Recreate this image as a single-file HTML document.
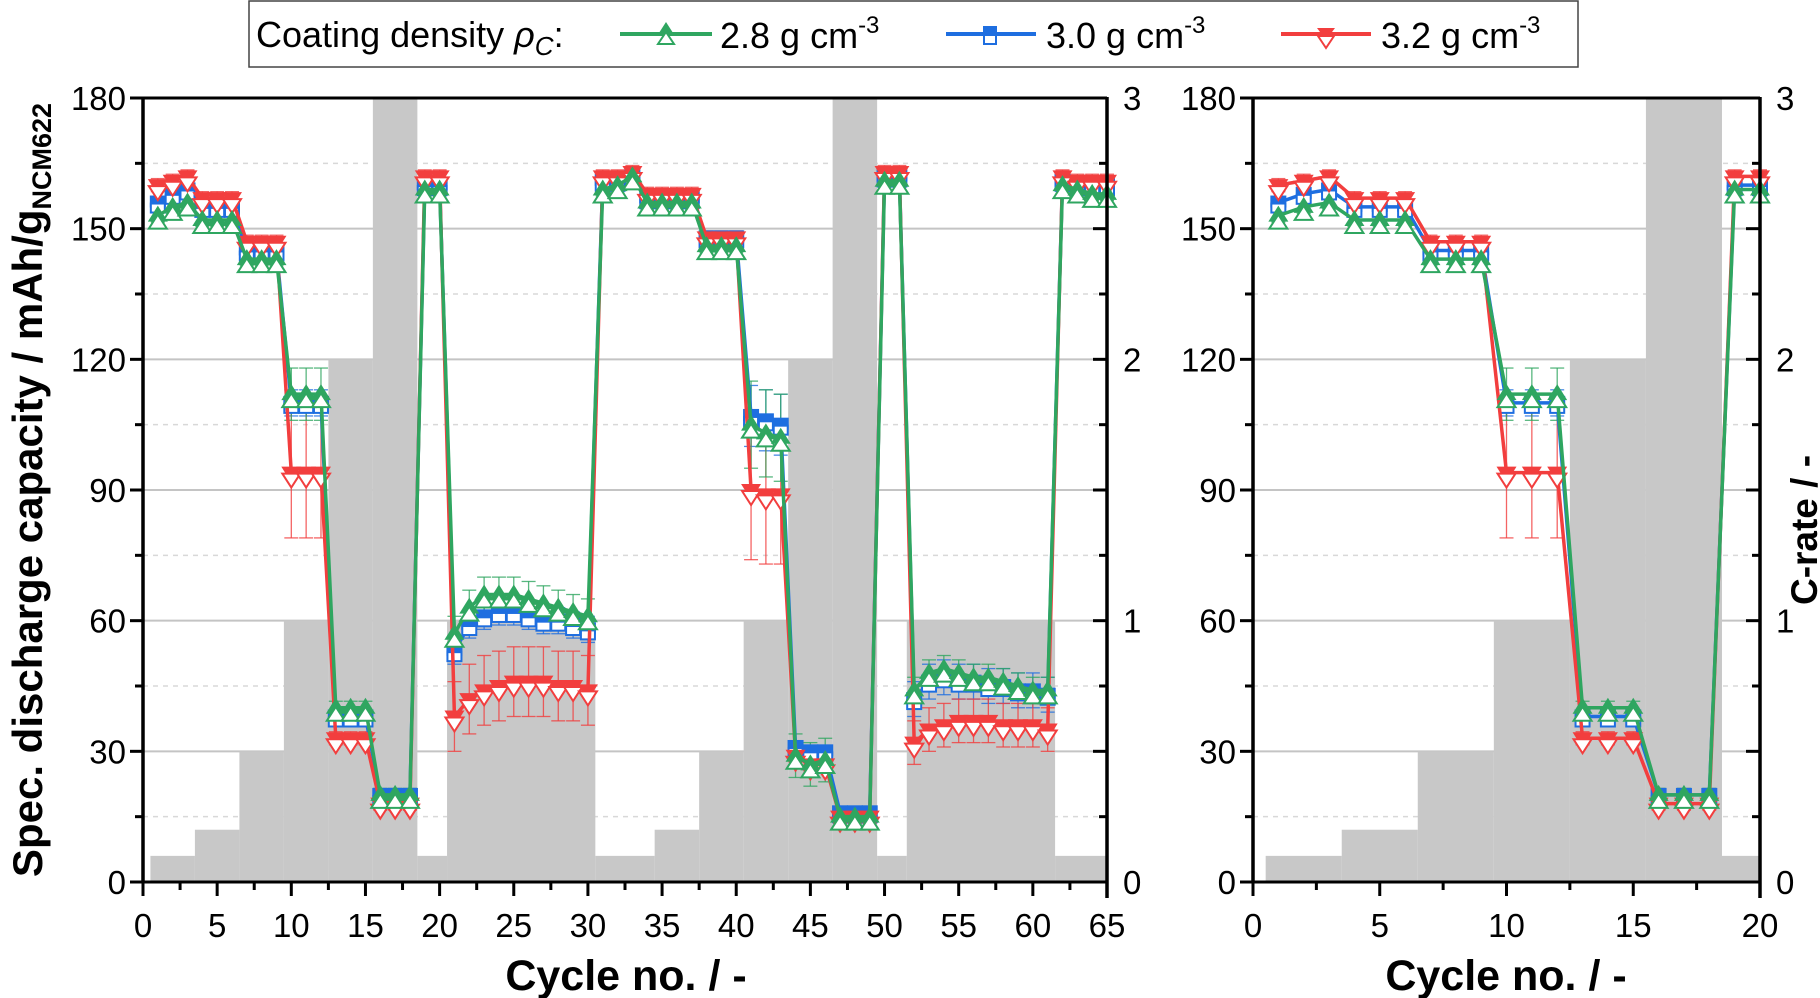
<!DOCTYPE html>
<html><head><meta charset="utf-8"><style>
html,body{margin:0;padding:0;background:#fff;}
svg{display:block;}
text{font-family:"Liberation Sans",Arial,sans-serif;fill:#000;}
</style></head><body>
<svg id="s" width="1820" height="998" viewBox="0 0 1820 998" xmlns="http://www.w3.org/2000/svg">
<rect x="249" y="1" width="1329" height="66" fill="#fff" stroke="#444" stroke-width="1.5"/>
<text x="256" y="47" font-size="36">Coating density <tspan font-style="italic">ρ</tspan><tspan font-style="italic" font-size="26" dy="8">C</tspan><tspan dy="-8">:</tspan></text>
<line x1="620" y1="34" x2="712" y2="34" stroke="#2fa660" stroke-width="4"/>
<polygon points="666,22 657,36 675,36" fill="#2fa660"/><polygon points="666,32 658,44 674,44" fill="#fff" stroke="#2fa660" stroke-width="2"/>
<text x="720" y="48" font-size="36">2.8 g cm<tspan font-size="24" dy="-15">-3</tspan></text>
<line x1="946" y1="34" x2="1036" y2="34" stroke="#1e6ee0" stroke-width="4"/>
<rect x="983" y="26" width="14" height="10" fill="#1e6ee0"/><rect x="984" y="35" width="12" height="9" fill="#fff" stroke="#1e6ee0" stroke-width="2"/>
<text x="1046" y="48" font-size="36">3.0 g cm<tspan font-size="24" dy="-15">-3</tspan></text>
<line x1="1281" y1="34" x2="1371" y2="34" stroke="#f23e3e" stroke-width="4"/>
<polygon points="1317,28 1335,28 1326,40" fill="#f23e3e"/><polygon points="1318,36 1334,36 1326,48" fill="#fff" stroke="#f23e3e" stroke-width="2"/>
<text x="1381" y="48" font-size="36">3.2 g cm<tspan font-size="24" dy="-15">-3</tspan></text>
<g id="g"></g>
<text transform="translate(42,490) rotate(-90)" text-anchor="middle" font-size="42" font-weight="bold">Spec. discharge capacity / mAh/g<tspan font-size="27" dy="9">NCM622</tspan></text>
<text transform="translate(1817,530) rotate(-90)" text-anchor="middle" font-size="37" font-weight="bold">C-rate / -</text>
<text x="626" y="990" text-anchor="middle" font-size="43" font-weight="bold">Cycle no. / -</text>
<text x="1506" y="990" text-anchor="middle" font-size="43" font-weight="bold">Cycle no. / -</text>
</svg>
<script>
var NS="http://www.w3.org/2000/svg",G=document.getElementById('g');
function el(t,a){var e=document.createElementNS(NS,t);for(var k in a)e.setAttribute(k,a[k]);G.appendChild(e);return e;}
var Y0=882,YT=98;function Y(v){return Y0-(v/180)*(Y0-YT);}
var rates=[[0.5,3.5,0.1],[3.5,6.5,0.2],[6.5,9.5,0.5],[9.5,12.5,1],[12.5,15.5,2],[15.5,18.5,3],[18.5,20.5,0.1],[20.5,30.5,1],[30.5,34.5,0.1],[34.5,37.5,0.2],[37.5,40.5,0.5],[40.5,43.5,1],[43.5,46.5,2],[46.5,49.5,3],[49.5,51.5,0.1],[51.5,61.5,1],[61.5,65,0.1]];
var green=[153,155,156,152,152,152,143,143,143,112,112,112,40,40,40,20,20,20,159,159,57,63,66,66,66,65,64,63,62,61,159,160,162,156,156,156,156,146,146,146,105,103,102,29,27,28,15,15,15,161,161,44,48,49,48,47,47,46,45,44,44,160,159,158,158];
var blue=[156,158,159,155,155,155,145,145,145,110,110,110,38,38,38,20,20,20,160,160,53,59,61,62,62,61,60,60,59,58,161,161,162,157,157,157,157,148,148,148,107,106,105,31,30,30,16,16,16,162,162,42,46,47,46,46,45,45,44,44,43,161,160,160,160];
var red=[160,161,162,157,157,157,147,147,147,94,94,94,33,33,33,18,18,18,162,162,38,42,44,45,46,46,46,45,45,44,162,162,163,158,158,158,158,148,148,148,90,89,89,29,27,27,15,15,15,163,163,32,35,36,37,37,37,36,36,36,35,162,161,161,161];
function errG(c){if(c>=10&&c<=12)return 6;if(c>=21&&c<=30)return 4;if(c>=41&&c<=43)return 10;if(c>=44&&c<=46)return 5;if(c>=52&&c<=61)return 3;return 1.5;}
function errB(c){if(c>=10&&c<=12)return 3;if(c>=21&&c<=30)return 3;if(c>=41&&c<=43)return 7;if(c>=52&&c<=61)return 4;return 1;}
function errR(c){if(c>=10&&c<=12)return 15;if(c>=21&&c<=30)return 8;if(c>=41&&c<=43)return 16;if(c>=52&&c<=61)return 5;return 1.5;}
function plot(x0,x1,xmax,n,ticks,lab){
 function X(c){return x0+c/xmax*(x1-x0);}
 for(var v=15;v<180;v+=15){var maj=v%30==0;el('line',{x1:x0,x2:x1,y1:Y(v),y2:Y(v),stroke:maj?'#c4c4c4':'#d8d8d8','stroke-width':maj?2:1.5,'stroke-dasharray':maj?'':'5,5'});}
 rates.forEach(function(r){if(r[0]>=xmax)return;var b=Math.min(r[1],xmax);el('rect',{x:X(r[0]),y:Y(r[2]*60),width:X(b)-X(r[0]),height:Y0-Y(r[2]*60),fill:'#c8c8c8'});});
 var S=[[blue,'#1e6ee0',errB,'sq'],[red,'#f23e3e',errR,'dn'],[green,'#2fa660',errG,'up']];
 S.forEach(function(s){var d=s[0],col=s[1];
  for(var i=0;i<n;i++){var c=i+1,x=X(c),e=s[2](c);var a=Y(d[i]+e),b=Y(d[i]-e);
   el('line',{x1:x,x2:x,y1:a,y2:b,stroke:col,'stroke-width':1.3,opacity:0.8});
   el('line',{x1:x-7,x2:x+7,y1:a,y2:a,stroke:col,'stroke-width':1.3,opacity:0.8});
   el('line',{x1:x-7,x2:x+7,y1:b,y2:b,stroke:col,'stroke-width':1.3,opacity:0.8});}
 });
 S.forEach(function(s){var d=s[0],col=s[1],p=[];
  for(var i=0;i<n;i++)p.push(X(i+1)+','+Y(d[i]));
  el('polyline',{points:p.join(' '),fill:'none',stroke:col,'stroke-width':3.5});
  for(var i=0;i<n;i++){var x=X(i+1),y=Y(d[i]);
   if(s[3]=='up'){el('polygon',{points:(x)+','+(y-10)+' '+(x-10)+','+(y+6)+' '+(x+10)+','+(y+6),fill:col});
     el('polygon',{points:(x)+','+(y-1)+' '+(x-9)+','+(y+13)+' '+(x+9)+','+(y+13),fill:'#fff',stroke:col,'stroke-width':2});}
   else if(s[3]=='dn'){el('polygon',{points:(x-10)+','+(y-6)+' '+(x+10)+','+(y-6)+' '+x+','+(y+10),fill:col});
     el('polygon',{points:(x-9)+','+(y+1)+' '+(x+9)+','+(y+1)+' '+x+','+(y+15),fill:'#fff',stroke:col,'stroke-width':2});}
   else{el('rect',{x:x-8,y:y-7,width:16,height:12,fill:col});el('rect',{x:x-7,y:y+1,width:14,height:9,fill:'#fff',stroke:col,'stroke-width':2});}
  }
 });
 el('line',{x1:x0,x2:x1,y1:YT,y2:YT,stroke:'#000','stroke-width':3});
 el('line',{x1:x0,x2:x0,y1:YT-1,y2:Y0+1,stroke:'#000','stroke-width':3.5});
 el('line',{x1:x1,x2:x1,y1:YT-1,y2:Y0+16,stroke:'#000','stroke-width':3.5});
 el('line',{x1:x0-1,x2:x1+1,y1:Y0,y2:Y0,stroke:'#000','stroke-width':3});
 for(var v=0;v<=180;v+=15){var maj=v%30==0,y=Y(v);
  el('line',{x1:x0-(maj?13:8),x2:x0,y1:y,y2:y,stroke:'#000','stroke-width':3});
  if(maj){var t=el('text',{x:x0-17,y:y+12,'text-anchor':'end','font-size':33});t.textContent=v;
   el('line',{x1:x1-14,x2:x1,y1:y,y2:y,stroke:'#000','stroke-width':3});}
  else el('line',{x1:x1-8,x2:x1,y1:y,y2:y,stroke:'#000','stroke-width':3});
  if(v%60==0){var t2=el('text',{x:x1+16,y:y+12,'font-size':33});t2.textContent=v/60;}
 }
 for(var c=0;c<=xmax;c+=ticks/2){var x=X(c),maj=(c%ticks==0);
  el('line',{x1:x,x2:x,y1:Y0,y2:Y0+(maj?14:8),stroke:'#000','stroke-width':3});
  if(maj){var t=el('text',{x:x,y:Y0+55,'text-anchor':'middle','font-size':33});t.textContent=c;}}
}
plot(143,1107,65,65,5,0);
plot(1253,1760,20,20,5,1);
</script>
</body></html>
